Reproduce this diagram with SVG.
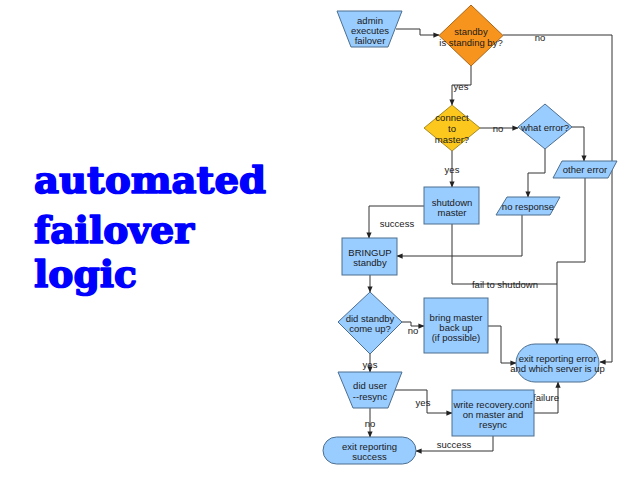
<svg xmlns="http://www.w3.org/2000/svg" width="638" height="479" viewBox="0 0 638 479">
<defs>
<marker id="arr" viewBox="0 0 8 8" refX="7.5" refY="4" markerWidth="6" markerHeight="6" orient="auto" markerUnits="userSpaceOnUse">
<path d="M0,0.5 L8,4 L0,7.5 Z" fill="#222"/>
</marker>
<style>
.blue{fill:#99ccff;stroke:#4d6f8f;stroke-width:1}
.orange{fill:#f7941d;stroke:#a8661a;stroke-width:1}
.yellow{fill:#fcc81e;stroke:#a88a20;stroke-width:1}
.t{font-family:"Liberation Sans",Arial,sans-serif;font-size:9.5px;fill:#1a1a1a;text-anchor:middle}
.c{fill:none;stroke:#333;stroke-width:1}
.ca{fill:none;stroke:#333;stroke-width:1;marker-end:url(#arr)}
.title{font-family:"DejaVu Serif","Liberation Serif",serif;font-weight:bold;font-size:37px;fill:#0000ff;stroke:#0000ff;stroke-width:1.6;stroke-linejoin:round}
</style>
</defs>
<rect width="638" height="479" fill="#ffffff"/>
<g id="title">
<text class="title" x="34" y="193" textLength="232" lengthAdjust="spacingAndGlyphs">automated</text>
<text class="title" x="34" y="243" textLength="160" lengthAdjust="spacingAndGlyphs">failover</text>
<text class="title" x="34" y="287" textLength="103" lengthAdjust="spacingAndGlyphs">logic</text>
</g>
<g id="connectors">
<path class="ca" d="M396,29 H420 V35 H439"/>
<path class="ca" d="M503,35 H612 V362 H600"/>
<path class="ca" d="M471,66 V85 H452 V105"/>
<path class="ca" d="M480,128 H518"/>
<path class="ca" d="M452,151 V187"/>
<path class="ca" d="M572,127 H584 V161"/>
<path class="ca" d="M545,149 V173 H528 V197"/>
<path class="ca" d="M424,206 H369 V238"/>
<path class="ca" d="M522,215 V256 H397"/>
<path class="c" d="M452,224 V284 H557"/>
<path class="ca" d="M585,178 V262 H557 V344"/>
<path class="ca" d="M370,275 V292"/>
<path class="ca" d="M402,322 H411 V326 H424"/>
<path class="ca" d="M488,326 H501 V363 H516"/>
<path class="ca" d="M370,354 V372"/>
<path class="ca" d="M395,390 H427 V413 H452"/>
<path class="ca" d="M534,413 H558 V382"/>
<path class="ca" d="M493,436 V451 H416"/>
<path class="ca" d="M370,408 V437"/>
<g id="connector-labels">
<text class="t" x="540" y="40.5">no</text>
<text class="t" x="461" y="90">yes</text>
<text class="t" x="498" y="131.5">no</text>
<text class="t" x="452" y="172.5">yes</text>
<text class="t" x="397" y="226.5">success</text>
<text class="t" x="505" y="288">fail to shutdown</text>
<text class="t" x="413" y="333.5">no</text>
<text class="t" x="370" y="367.5">yes</text>
<text class="t" x="423" y="405.5">yes</text>
<text class="t" x="546" y="400.5">failure</text>
<text class="t" x="454" y="447.5">success</text>
<text class="t" x="370" y="426.5">no</text>
</g>
</g>
<g id="admin">
<polygon class="blue" points="337,11 402,11 388,47 351,47"/>
<text class="t" x="370" y="23.5">admin</text>
<text class="t" x="370" y="33.5">executes</text>
<text class="t" x="370" y="44">failover</text>
</g>
<g id="standby">
<polygon class="orange" points="471,5 503,35.5 471,66 439,35.5"/>
<text class="t" x="471" y="34.5">standby</text>
<text class="t" x="471" y="45.5">is standing by?</text>
</g>
<g id="connect">
<polygon class="yellow" points="452,105 480,128 452,151 424,128"/>
<text class="t" x="452" y="120.5">connect</text>
<text class="t" x="452" y="131.5">to</text>
<text class="t" x="452" y="142.5">master?</text>
</g>
<g id="what-error">
<polygon class="blue" points="545,104 572,127 545,149 518,127"/>
<text class="t" x="545" y="131">what error?</text>
</g>
<g id="other-error">
<polygon class="blue" points="562,161 617,161 608,178 553,178"/>
<text class="t" x="585" y="173">other error</text>
</g>
<g id="no-response">
<polygon class="blue" points="507,197 560,197 550,215 496,215"/>
<text class="t" x="528" y="209.5">no response</text>
</g>
<g id="shutdown">
<rect class="blue" x="424" y="187" width="55" height="37"/>
<text class="t" x="452" y="205.5">shutdown</text>
<text class="t" x="452" y="215.5">master</text>
</g>
<g id="bringup">
<rect class="blue" x="342" y="238" width="55" height="37"/>
<text class="t" x="370" y="255.5">BRINGUP</text>
<text class="t" x="370" y="265.5">standby</text>
</g>
<g id="did-standby">
<polygon class="blue" points="370,292 402,322 370,354 338,322"/>
<text class="t" x="370" y="321.5">did standby</text>
<text class="t" x="370" y="331.5">come up?</text>
</g>
<g id="bring-master">
<rect class="blue" x="424" y="298" width="64" height="55"/>
<text class="t" x="456" y="320.5">bring master</text>
<text class="t" x="456" y="330.5">back up</text>
<text class="t" x="456" y="340.5">(if possible)</text>
</g>
<g id="exit-error">
<rect class="blue" x="516" y="344" width="83" height="38" rx="19" ry="19"/>
<text class="t" x="557.5" y="361.5">exit reporting error</text>
<text class="t" x="557.5" y="371.5">and which server is up</text>
</g>
<g id="did-user">
<polygon class="blue" points="338,372 402,372 388,408 353,408"/>
<text class="t" x="370" y="388.5">did user</text>
<text class="t" x="370" y="399.5">--resync</text>
</g>
<g id="write-recovery">
<rect class="blue" x="452" y="390" width="82" height="46"/>
<text class="t" x="493" y="407.5">write recovery.conf</text>
<text class="t" x="493" y="417.5">on master and</text>
<text class="t" x="493" y="427.5">resync</text>
</g>
<g id="exit-success">
<rect class="blue" x="323" y="437" width="93" height="27" rx="13.5" ry="13.5"/>
<text class="t" x="369.5" y="449.5">exit reporting</text>
<text class="t" x="369.5" y="459.5">success</text>
</g>
</svg>
